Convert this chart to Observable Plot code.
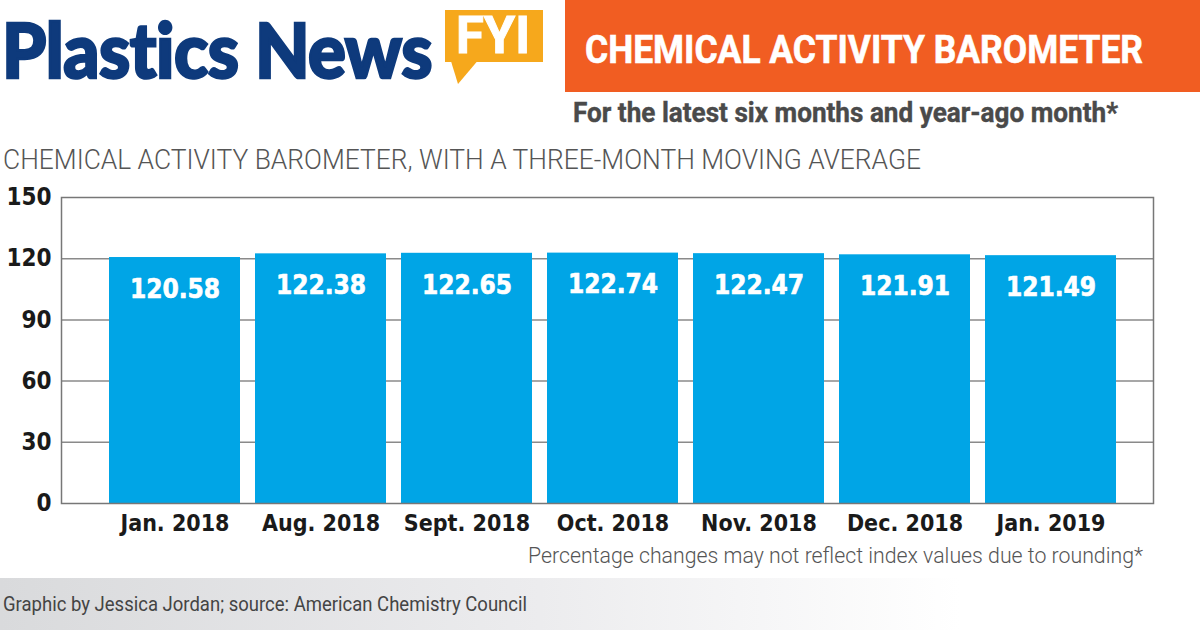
<!DOCTYPE html>
<html>
<head>
<meta charset="utf-8">
<script src="https://cdn.jsdelivr.net/npm/d3@7"></script>
<script src="https://cdn.jsdelivr.net/npm/@observablehq/plot@0.6"></script>
<style>
  html, body { margin: 0; padding: 0; background: #fff; }
  body { width: 1200px; height: 630px; position: relative; overflow: hidden; font-family: Roboto, "DejaVu Sans Condensed", sans-serif; }
  .abs { position: absolute; white-space: nowrap; transform-origin: 0 0; }
  #logo { left: 2px; top: 4px; font-family: Lato, "Open Sans", sans-serif; font-weight: 900; font-size: 76px; line-height: 90px; color: #0e3a7c; letter-spacing: -0.5px; -webkit-text-stroke: 2.5px #0e3a7c; }
  #fyi { left: 445px; top: 10px; width: 98px; height: 52px; background: #f6a81c; }
  #fyitext { left: 456px; top: 7px; color: #fff; font-family: Roboto, sans-serif; font-weight: bold; font-size: 52px; line-height: 58px; -webkit-text-stroke: 1px #fff; }
  #fyitail { left: 450px; top: 58px; width: 0; height: 0; border-left: 8px solid transparent; border-right: 22px solid transparent; border-top: 26px solid #f6a81c; }
  #band { left: 565px; top: 0; width: 635px; height: 92px; background: #f15d22; }
  #bandtitle { left: 585px; top: 27px; font-weight: bold; font-size: 39px; color: #fff; line-height: 46px; -webkit-text-stroke: 0.6px #fff; }
  #sub { left: 573px; top: 97px; font-weight: bold; font-size: 27px; color: #4a4a4a; line-height: 32px; -webkit-text-stroke: 0.4px #4a4a4a; }
  #heading { left: 3px; top: 143px; font-weight: 300; font-size: 28px; color: #555; line-height: 34px; }
  #chart { left: 0; top: 175px; }
  #note { left: 528px; top: 542px; font-weight: 300; font-size: 22px; color: #555; line-height: 28px; }
  #footer { left: 0; top: 578px; width: 1200px; height: 52px; background: linear-gradient(to right, #d9dadc 0%, #ececee 45%, #ffffff 80%); }
  #credit { left: 3px; top: 590px; font-size: 21px; color: #444; line-height: 28px; }
</style>
</head>
<body>
<div class="abs" id="logo" data-w="430">Plastics News</div>
<div class="abs" id="fyitail"></div>
<div class="abs" id="fyi"></div>
<div class="abs" id="fyitext" data-w="74">FYI</div>
<div class="abs" id="band"></div>
<div class="abs" id="bandtitle" data-w="558">CHEMICAL ACTIVITY BAROMETER</div>
<div class="abs" id="sub" data-w="545">For the latest six months and year-ago month*</div>
<div class="abs" id="heading" data-w="918">CHEMICAL ACTIVITY BAROMETER, WITH A THREE-MONTH MOVING AVERAGE</div>
<div class="abs" id="chart"></div>
<div class="abs" id="note" data-w="615">Percentage changes may not reflect index values due to rounding*</div>
<div class="abs" id="footer"></div>
<div class="abs" id="credit" data-w="524">Graphic by Jessica Jordan; source: American Chemistry Council</div>
<script>
const months = ["Jan. 2018", "Aug. 2018", "Sept. 2018", "Oct. 2018", "Nov. 2018", "Dec. 2018", "Jan. 2019"];
const values = [120.58, 122.38, 122.65, 122.74, 122.47, 121.91, 121.49];
const yTicks = [0, 30, 60, 90, 120, 150];
const gridTicks = [30, 60, 90, 120];

const data = months.map((m, i) => ({month: m, value: values[i]}));

const chart = Plot.plot({
  width: 1200,
  height: 370,
  marginLeft: 61,
  marginRight: 47,
  marginTop: 22,
  marginBottom: 42,
  style: {fontFamily: "'DejaVu Sans Condensed', sans-serif", background: "transparent"},
  x: {domain: months, range: [108, 1117], paddingInner: 0.1, paddingOuter: 0, label: null},
  y: {domain: [0, 150], label: null},
  marks: [
    Plot.ruleY(gridTicks, {stroke: "#8a8a8a", strokeWidth: 1.5}),
    Plot.barY(data, {x: "month", y: "value", fill: "#00a5e6"}),
    Plot.frame({stroke: "#777", strokeWidth: 1.5}),
    Plot.text(data, {x: "month", y: "value", text: d => d.value.toFixed(2), dy: 32, fill: "#fff", fontSize: 26, fontWeight: "bold", fontFamily: "'DejaVu Sans Condensed', sans-serif", stroke: "#fff", strokeWidth: 0.6}),
    Plot.axisY({ticks: yTicks, tickSize: 0, tickPadding: 10, fontSize: 24, fontWeight: "bold", fill: "#1a1a1a", label: null, fontFamily: "'DejaVu Sans Condensed', sans-serif"}),
    Plot.axisX({tickSize: 0, tickPadding: 11, fontSize: 23, fontWeight: "bold", fill: "#1a1a1a", label: null, fontFamily: "'DejaVu Sans Condensed', sans-serif"})
  ]
});
document.getElementById("chart").appendChild(chart);

document.querySelectorAll("[data-w]").forEach(el => {
  const w = el.getBoundingClientRect().width;
  const target = +el.dataset.w;
  if (w > 0) el.style.transform = `scaleX(${target / w})`;
});
</script>
</body>
</html>
